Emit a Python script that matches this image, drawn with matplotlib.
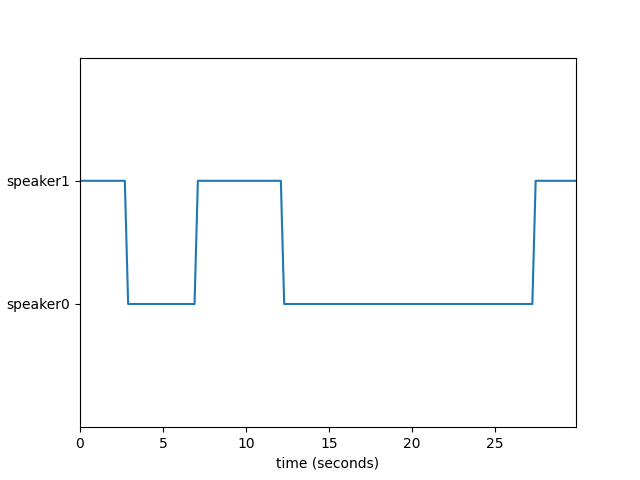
import matplotlib
matplotlib.use("Agg")
import matplotlib.pyplot as plt

# speaker turns: breakpoints in seconds and active speaker index
aTime = [0.0, 2.7, 2.9, 6.9, 7.1, 12.1, 12.3, 27.25, 27.45, 29.88]
aSpeaker = [1, 1, 0, 0, 1, 1, 0, 0, 1, 1]
aLabels = ['speaker0', 'speaker1']

fig, ax = plt.subplots(figsize=(6.4, 4.8), dpi=100)
ax.plot(aTime, aSpeaker)
ax.set_xlim(0, aTime[-1])
ax.set_ylim(-1, len(aLabels))
ax.set_yticks(range(len(aLabels)))
ax.set_yticklabels(aLabels)
ax.set_xlabel('time (seconds)')

plt.savefig('out.png')
plt.close(fig)
